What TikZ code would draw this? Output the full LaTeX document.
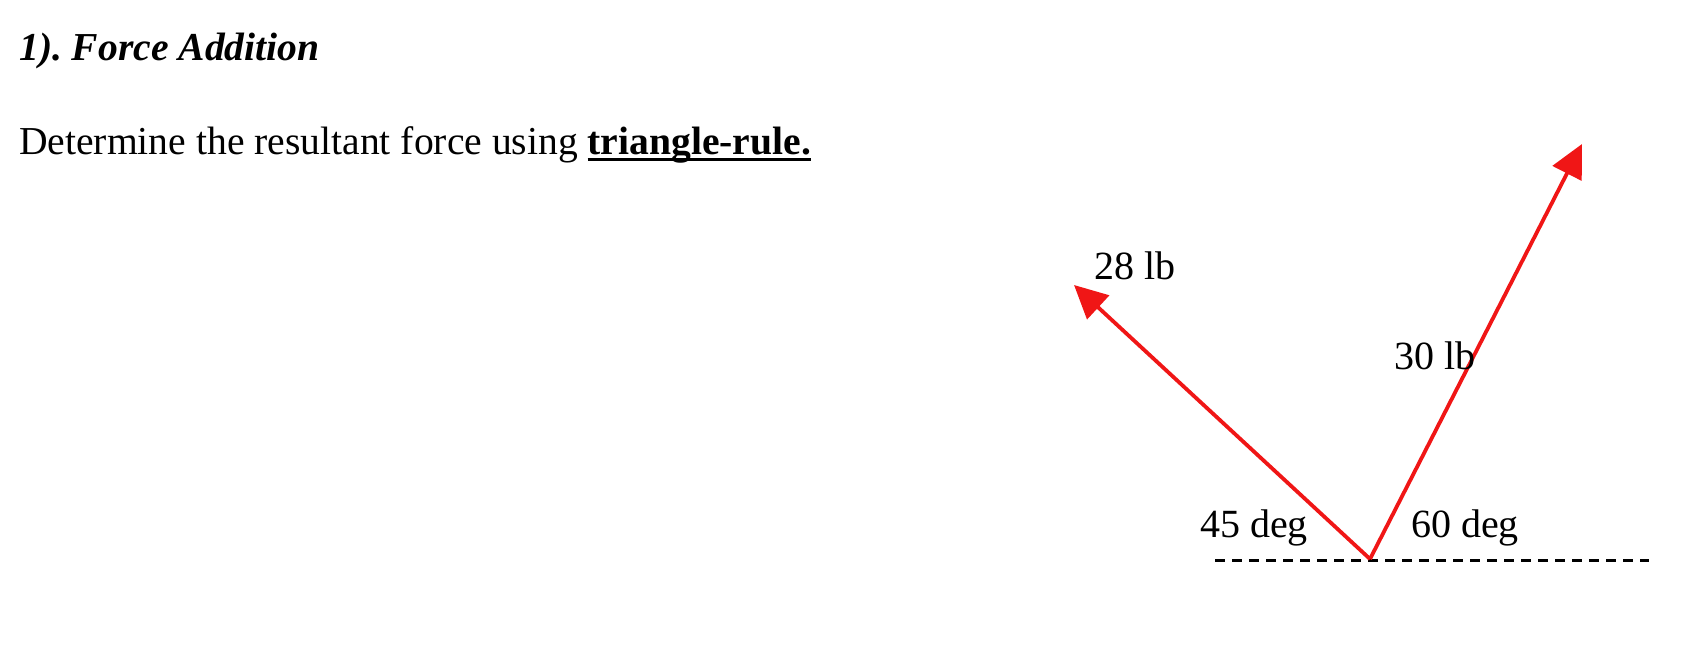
\documentclass[tikz,border=0pt]{standalone}
\usepackage{fontspec}
\setmainfont{Liberation Serif}
\usetikzlibrary{arrows.meta}
\definecolor{vecred}{RGB}{240,22,22}
\newcommand\myuline[1]{\setbox0\hbox{#1}\rlap{\rule[-6.5pt]{\wd0}{2.8pt}}\box0}
\tikzset{
  txt/.style={inner sep=0pt, font=\fontsize{39.6}{47}\selectfont},
  lbl/.style={inner sep=0pt, font=\fontsize{40}{48}\selectfont},
  force/.style={draw=vecred, line width=3.8pt, -{Triangle[length=33pt,width=32pt]}},
  baseline dash/.style={draw=black, line width=3pt, dash pattern=on 9.5pt off 7.5pt}
}
\begin{document}
\begin{tikzpicture}[x=1pt,y=-1pt]
\useasboundingbox[fill=white] (0,0) rectangle (1689,646);
\node[txt, anchor=base west] (title) at (19,60) {\textbf{\textit{1).\ Force Addition}}};
\node[txt, anchor=base west] (task) at (19,154) {Determine the resultant force using \myuline{\textbf{triangle-rule.}}};
\coordinate (O) at (1370,559);
\coordinate (A) at (1074,285);
\coordinate (B) at (1582,144);
\coordinate (L) at (1215,560);
\coordinate (R) at (1649,560);
\draw[baseline dash] (L) -- (R);
\draw[force] (O) -- (A);
\draw[force] (O) -- (B);
\node[lbl] (f1) at (1135,266) {28 lb};
\node[lbl] (f2) at (1435,356) {30 lb};
\node[lbl] (a1) at (1254,528) {45 deg};
\node[lbl] (a2) at (1465,528) {60 deg};
\end{tikzpicture}
\end{document}
